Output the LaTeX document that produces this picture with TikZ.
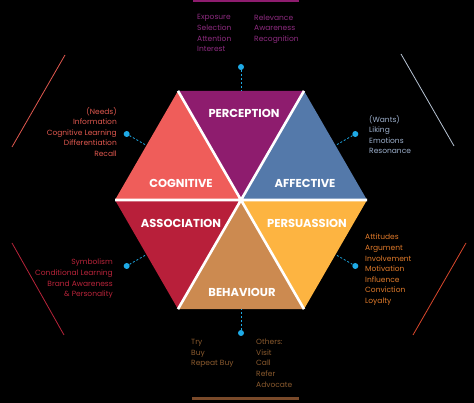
\documentclass[tikz,border=0pt]{standalone}
\usepackage{fontspec}
\setmainfont{Poppins}
\definecolor{percc}{HTML}{8E1C6E}
\definecolor{cogc}{HTML}{EF5D5A}
\definecolor{affc}{HTML}{5479AA}
\definecolor{assc}{HTML}{B81F3A}
\definecolor{persc}{HTML}{FDB441}
\definecolor{behc}{HTML}{CC8A50}
\definecolor{toptxt}{HTML}{8E2B80}
\definecolor{lttxt}{HTML}{E0584F}
\definecolor{rttxt}{HTML}{9DB0CC}
\definecolor{lbtxt}{HTML}{B8243A}
\definecolor{rbtxt}{HTML}{E07A2A}
\definecolor{bottxt}{HTML}{8A5A2E}
\definecolor{rtline}{HTML}{B8C4D4}
\definecolor{rbline}{HTML}{D9472C}
\definecolor{botbar}{HTML}{7A4A2A}
\definecolor{dotc}{HTML}{1EAAE6}
\begin{document}
\begin{tikzpicture}[x=1pt,y=1pt,
  lbl/.style={font=\fontsize{11.5}{13}\selectfont\bfseries, text=white, inner sep=0},
  small/.style={font=\fontsize{7.5}{10.6}\selectfont, inner sep=0},
  dotnode/.style={circle, fill=dotc, inner sep=0, minimum size=6},
  conn/.style={draw=dotc, dash pattern=on 2pt off 2pt, line width=0.8pt},
  deco/.style={line width=0.8pt}]
\fill[black] (0,0) rectangle (474,403);
\useasboundingbox (0,0) rectangle (474,403);
\coordinate (C) at (241,203);
\path (C) ++(0:126) coordinate (v0)
      (C) ++(60:126) coordinate (v1)
      (C) ++(120:126) coordinate (v2)
      (C) ++(180:126) coordinate (v3)
      (C) ++(240:126) coordinate (v4)
      (C) ++(300:126) coordinate (v5);
% triangles
\fill[percc] (C) -- (v1) -- (v2) -- cycle;
\fill[cogc] (C) -- (v2) -- (v3) -- cycle;
\fill[assc] (C) -- (v3) -- (v4) -- cycle;
\fill[behc] (C) -- (v4) -- (v5) -- cycle;
\fill[persc] (C) -- (v5) -- (v0) -- cycle;
\fill[affc] (C) -- (v0) -- (v1) -- cycle;
\draw[white, line width=2.6pt] (v0) -- (v3) (v1) -- (v4) (v2) -- (v5);
% labels
\node[lbl] (perception) at (244,290) {PERCEPTION};
\node[lbl] (cognitive) at (181,220) {COGNITIVE};
\node[lbl] (affective) at (305,220) {AFFECTIVE};
\node[lbl] (association) at (181,180) {ASSOCIATION};
\node[lbl] (persuassion) at (307,180) {PERSUASSION};
\node[lbl] (behaviour) at (242,111) {BEHAVIOUR};
% edge midpoints and dots
\path (C) ++(90:109) coordinate (m90)
      (C) ++(150:109) coordinate (m150)
      (C) ++(30:109) coordinate (m30)
      (C) ++(210:109) coordinate (m210)
      (C) ++(330:109) coordinate (m330)
      (C) ++(270:109) coordinate (m270);
\path (C) ++(90:133) node[dotnode] (d90) {}
      (C) ++(150:132) node[dotnode] (d150) {}
      (C) ++(30:132) node[dotnode] (d30) {}
      (C) ++(210:132) node[dotnode] (d210) {}
      (C) ++(330:132) node[dotnode] (d330) {}
      (C) ++(270:133) node[dotnode] (d270) {};
\foreach \a in {90,150,30,210,330,270}{\draw[conn] (d\a) -- (m\a);}
% top text
\node[small, text=toptxt, anchor=north west, align=left] (toptxtA) at (197,388.5) {Exposure\\Selection\\Attention\\Interest};
\node[small, text=toptxt, anchor=north west, align=left] (toptxtB) at (254,388.5) {Relevance\\Awareness\\Recognition};
% left top
\node[small, text=lttxt, anchor=north east, align=right] (lttext) at (117,296) {(Needs)\\Information\\Cognitive Learning\\Differentiation\\Recall};
% right top
\node[small, text=rttxt, anchor=north west, align=left] (rttext) at (369,288) {(Wants)\\Liking\\Emotions\\Resonance};
% left bottom
\node[small, text=lbtxt, anchor=north east, align=right] (lbtext) at (113,144) {Symbolism\\Conditional Learning\\Brand Awareness\\\& Personality};
% right bottom
\node[small, text=rbtxt, anchor=north west, align=left] (rbtext) at (365,169) {Attitudes\\Argument\\Involvement\\Motivation\\Influence\\Conviction\\Loyalty};
% bottom
\node[small, text=bottxt, anchor=north west, align=left] (bottxtA) at (191,64) {Try\\Buy\\Repeat Buy};
\node[small, text=bottxt, anchor=north west, align=left] (bottxtB) at (256,64) {Others:\\Visit\\Call\\Refer\\Advocate};
% decorative lines
\draw[deco, lttxt] (65,348) -- (12,256);
\draw[deco, rtline] (401,349) -- (454,257);
\draw[deco, lbtxt] (12,160) -- (64,68);
\draw[deco, rbline] (466,160) -- (413,68);
\fill[percc] (193,400.5) rectangle (299,403);
\fill[botbar] (192,3) rectangle (299,5.5);
\end{tikzpicture}
\end{document}
